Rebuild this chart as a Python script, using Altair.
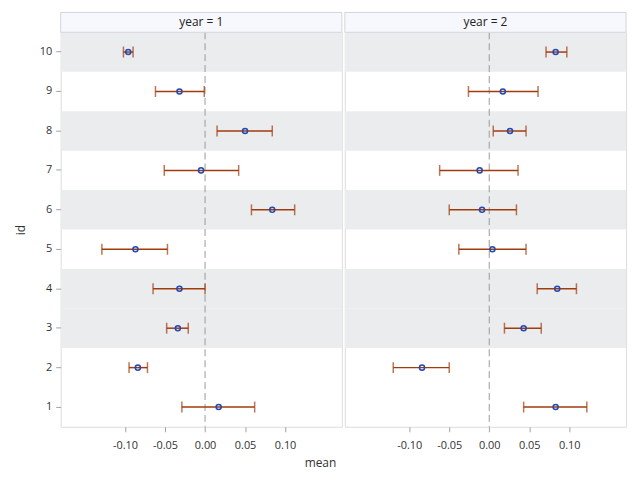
import altair as alt
import pandas as pd

ids = [1, 2, 3, 4, 5, 6, 7, 8, 9, 10]
years = [1, 2]

mean_y1 = [0.017, -0.084, -0.034, -0.032, -0.087, 0.084, -0.005, 0.050, -0.032, -0.096]
lower_y1 = [-0.029, -0.095, -0.048, -0.065, -0.129, 0.058, -0.051, 0.015, -0.062, -0.102]
upper_y1 = [0.062, -0.072, -0.021, 0.000, -0.047, 0.112, 0.042, 0.084, -0.001, -0.090]

mean_y2 = [0.083, -0.084, 0.043, 0.085, 0.004, -0.009, -0.012, 0.026, 0.017, 0.083]
lower_y2 = [0.043, -0.120, 0.019, 0.060, -0.038, -0.050, -0.062, 0.005, -0.026, 0.071]
upper_y2 = [0.122, -0.050, 0.065, 0.109, 0.046, 0.034, 0.036, 0.046, 0.061, 0.097]

shaded_ids = [10, 8, 6, 4, 3]
x_ticks = [-0.10, -0.05, 0.00, 0.05, 0.10]
x_domain = [-0.1805, 0.171]

series = {1: (mean_y1, lower_y1, upper_y1), 2: (mean_y2, lower_y2, upper_y2)}

FONT = "Open Sans"
PW, PH = 283, 397
id_order = sorted(ids, reverse=True)

band_df = pd.DataFrame({"id": shaded_ids})
zero_df = pd.DataFrame({"zero": [0.0]})


def panel(year, show_y):
    m, lo, hi = series[year]
    df = pd.DataFrame({"id": ids, "mean": m, "lower": lo, "upper": hi})
    yscale = alt.Scale(domain=id_order, paddingInner=0, paddingOuter=0)
    if show_y:
        yaxis = alt.Axis(title="id", labelFont=FONT, labelFontSize=11, titleFont=FONT,
                         titleFontSize=12, titleFontWeight="normal", titleColor="#333333",
                         labelColor="#333333", tickColor="#9EA2A6", tickSize=5,
                         labelPadding=4, titlePadding=12, domain=False, labelAngle=0)
    else:
        yaxis = None
    y_enc = alt.Y("id:O", scale=yscale, axis=yaxis)
    xscale = alt.Scale(domain=x_domain, nice=False, zero=False)
    xaxis = alt.Axis(title=None, values=x_ticks, grid=False, domain=False,
                     labelExpr="replace(format(datum.value, '.2f'), '\u2212', '-')",
                     labelFont=FONT, labelFontSize=11, labelColor="#333333",
                     tickColor="#9EA2A6", tickSize=5, labelPadding=8)

    bands = alt.Chart(band_df).mark_rect(color="#EBECEE").encode(
        y=alt.Y("id:O", scale=yscale, axis=yaxis)
    )
    zero = alt.Chart(zero_df).mark_rule(color="#9A9A9A", strokeDash=[7, 4], strokeWidth=1).encode(
        x=alt.X("zero:Q", scale=xscale, axis=xaxis)
    )
    base = alt.Chart(df)
    err = base.mark_rule(color="#A23B0C", strokeWidth=1.5).encode(
        x=alt.X("lower:Q", scale=xscale, axis=xaxis), x2="upper:Q", y=y_enc
    )
    cap_lo = base.mark_tick(color="#A23B0C", orient="vertical", size=11, thickness=1.5).encode(
        x=alt.X("lower:Q", scale=xscale, axis=xaxis), y=y_enc
    )
    cap_hi = base.mark_tick(color="#A23B0C", orient="vertical", size=11, thickness=1.5).encode(
        x=alt.X("upper:Q", scale=xscale, axis=xaxis), y=y_enc
    )
    pts = base.mark_point(shape="circle", filled=False, color="#1F49B5", size=26,
                          strokeWidth=1.5, opacity=1).encode(
        x=alt.X("mean:Q", scale=xscale, axis=xaxis), y=y_enc
    )
    head_df = pd.DataFrame({"label": [f"year = {year}"]})
    head_rect = alt.Chart(head_df).mark_rect(fill="#F7F8FE", stroke="#D3D6DA", strokeWidth=1).encode(
        x=alt.value(0), x2=alt.value(PW), y=alt.value(-20), y2=alt.value(0)
    )
    head_text = alt.Chart(head_df).mark_text(font=FONT, fontSize=12, color="#222222",
                                             baseline="middle", align="center").encode(
        text="label:N", x=alt.value(PW / 2), y=alt.value(-10)
    )
    return alt.layer(bands, zero, err, cap_lo, cap_hi, pts, head_rect, head_text).properties(
        width=PW, height=PH
    )


chart = alt.hconcat(panel(1, True), panel(2, False), spacing=1).properties(
    title=alt.TitleParams(text="mean", orient="bottom", anchor="middle", font=FONT,
                          fontSize=12, fontWeight="normal", color="#333333", offset=7),
    padding={"left": 5, "top": 2, "right": 5, "bottom": 0},
).configure_view(stroke="#9EA2A6", strokeWidth=1).configure(background="white")

chart.save("out.html", embed_options={"renderer": "svg", "actions": False})
